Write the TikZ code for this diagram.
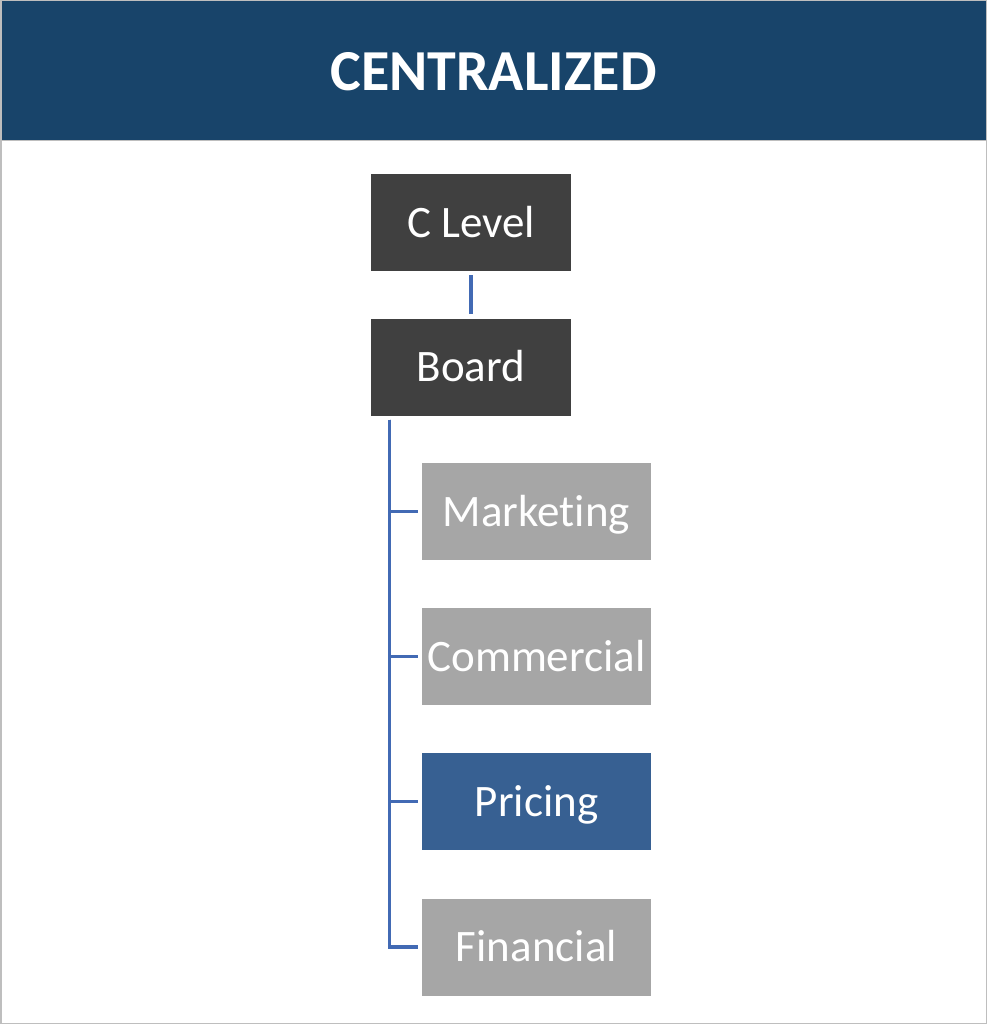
\documentclass[tikz,border=0pt]{standalone}
\usepackage{fontspec}
\setmainfont{Carlito}[Ligatures={NoCommon}]
\definecolor{hdr}{RGB}{24,68,106}
\definecolor{darkbox}{RGB}{64,64,64}
\definecolor{graybox}{RGB}{166,166,166}
\definecolor{pricebox}{RGB}{55,96,146}
\definecolor{conn}{RGB}{66,106,180}
\definecolor{frame}{RGB}{190,190,190}
\tikzset{
  box/.style={rectangle, inner sep=0pt, minimum height=97pt, text=white,
    font=\fontsize{45}{54}\selectfont, text height=29pt, text depth=0pt, align=center},
  topbox/.style={box, fill=darkbox, minimum width=200pt},
  unitbox/.style={box, fill=graybox, minimum width=229pt},
  pricestyle/.style={box, fill=pricebox, minimum width=229pt},
  link/.style={draw=conn, line width=3.2pt},
}
\begin{document}
\begin{tikzpicture}[x=1pt,y=-1pt]
\useasboundingbox (0,0) rectangle (987,1024);
\fill[white] (0,0) rectangle (987,1024);
\draw[frame, line width=1.5pt] (0.75,0.75) rectangle (986.25,1023.25);
\fill[hdr] (1.5,1.5) rectangle (985.5,140);
\draw[frame, line width=1.5pt] (1.5,140.5) -- (985.5,140.5);
\node[font=\bfseries\fontsize{58}{70}\selectfont, text=white, inner sep=0pt,
  text height=37.4pt, text depth=0pt] (title) at (493.5,72) {CENTRALIZED};

\node[topbox] (clevel) at (471,222.5) {C Level};
\node[topbox] (board) at (471,367) {Board};
\node[unitbox] (marketing) at (536.5,511.5) {Marketing};
\node[unitbox] (commercial) at (536.5,656.5) {Commercial};
\node[pricestyle] (pricing) at (536.5,801.5) {Pricing};
\node[unitbox] (financial) at (536.5,947) {Financial};

\draw[link, shorten <=4pt, shorten >=4pt] (clevel.south) -- (board.north);
\coordinate (trunk) at ([xshift=19pt,yshift=-4pt]board.south west);
\foreach \n in {marketing,commercial,pricing,financial}
  \draw[link, shorten >=4pt] (trunk) |- (\n.west);
\end{tikzpicture}
\end{document}
